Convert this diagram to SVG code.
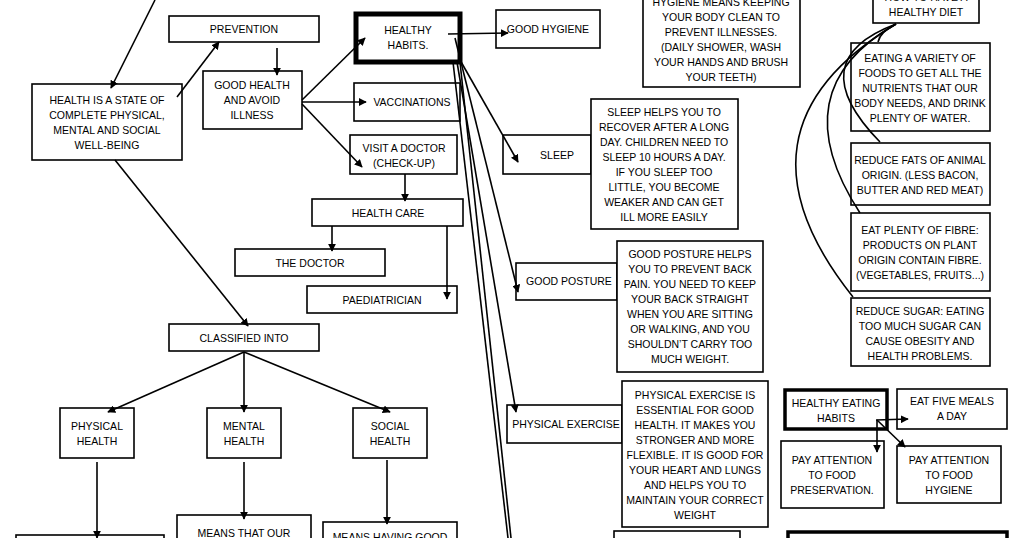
<svg xmlns="http://www.w3.org/2000/svg" width="1024" height="538" viewBox="0 0 1024 538">
<defs>
<marker id="a" viewBox="0 0 10 10" refX="9" refY="5" markerWidth="5" markerHeight="5" orient="auto"><path d="M0,0L10,5L0,10z" fill="#000"/></marker>
<style>
rect{fill:#fff;stroke:#000;stroke-width:1.6}
.thick{stroke-width:5}
.mid{stroke-width:3.5}
text{font-family:"Liberation Sans",Arial,sans-serif;font-size:10.5px;text-anchor:middle;fill:#000}
.c line,.c path{stroke:#000;stroke-width:1.6;fill:none}
.c .ar{marker-end:url(#a)}
</style>
</defs>
<rect x="0" y="0" width="1024" height="538" style="fill:#fff;stroke:none"/>
<g id="prevention"><rect x="169" y="16" width="150" height="26"/><text x="244" y="33">PREVENTION</text></g>
<g id="habits"><rect class="thick" x="356" y="14" width="104" height="48"/><text x="408" y="34">HEALTHY</text><text x="408" y="49">HABITS.</text></g>
<g id="hygiene"><rect x="496" y="10" width="104" height="38"/><text x="548" y="33">GOOD HYGIENE</text></g>
<g id="hygienetext"><rect x="643" y="-5" width="157" height="92"/><text x="721" y="6">HYGIENE MEANS KEEPING</text><text x="721" y="21">YOUR BODY CLEAN TO</text><text x="721" y="36">PREVENT ILLNESSES.</text><text x="721" y="51">(DAILY SHOWER, WASH</text><text x="721" y="66">YOUR HANDS AND BRUSH</text><text x="721" y="81">YOUR TEETH)</text></g>
<g id="diet"><rect x="873" y="-10" width="106" height="33"/><text x="926" y="1">HOW TO HAVE A</text><text x="926" y="16">HEALTHY DIET</text></g>
<g id="state"><rect x="32" y="84" width="150" height="76"/><text x="107" y="104">HEALTH IS A STATE OF</text><text x="107" y="119">COMPLETE PHYSICAL,</text><text x="107" y="134">MENTAL AND SOCIAL</text><text x="107" y="149">WELL-BEING</text></g>
<g id="goodhealth"><rect x="203" y="71" width="99" height="58"/><text x="252" y="89">GOOD HEALTH</text><text x="252" y="104">AND AVOID</text><text x="252" y="119">ILLNESS</text></g>
<g id="vacc"><rect x="354" y="83" width="106" height="38"/><text x="412" y="106">VACCINATIONS</text></g>
<g id="visit"><rect x="350" y="135" width="107" height="39"/><text x="404" y="152">VISIT A DOCTOR</text><text x="404" y="167">(CHECK-UP)</text></g>
<g id="care"><rect x="312" y="199" width="151" height="27"/><text x="388" y="217">HEALTH CARE</text></g>
<g id="doctor"><rect x="235" y="249" width="150" height="27"/><text x="310" y="267">THE DOCTOR</text></g>
<g id="paed"><rect x="307" y="286" width="150" height="27"/><text x="382" y="304">PAEDIATRICIAN</text></g>
<g id="classified"><rect x="169" y="324" width="150" height="27"/><text x="244" y="342">CLASSIFIED INTO</text></g>
<g id="physical"><rect x="60" y="408" width="74" height="50"/><text x="97" y="430">PHYSICAL</text><text x="97" y="445">HEALTH</text></g>
<g id="mental"><rect x="207" y="408" width="74" height="50"/><text x="244" y="430">MENTAL</text><text x="244" y="445">HEALTH</text></g>
<g id="social"><rect x="353" y="408" width="74" height="50"/><text x="390" y="430">SOCIAL</text><text x="390" y="445">HEALTH</text></g>
<g id="physb"><rect x="16" y="535" width="148" height="20"/></g>
<g id="mentb"><rect x="177" y="515" width="134" height="40"/><text x="244" y="537">MEANS THAT OUR</text></g>
<g id="socb"><rect x="323" y="522" width="134" height="40"/><text x="390" y="541">MEANS HAVING GOOD</text></g>
<g id="sleep"><rect x="503" y="135" width="88" height="39"/><text x="557" y="159">SLEEP</text></g>
<g id="sleept"><rect x="591" y="99" width="147" height="130"/><text x="664" y="116">SLEEP HELPS YOU TO</text><text x="664" y="131">RECOVER AFTER A LONG</text><text x="664" y="146">DAY. CHILDREN NEED TO</text><text x="664" y="161">SLEEP 10 HOURS A DAY.</text><text x="664" y="176">IF YOU SLEEP TOO</text><text x="664" y="191">LITTLE, YOU BECOME</text><text x="664" y="206">WEAKER AND CAN GET</text><text x="664" y="221">ILL MORE EASILY</text></g>
<g id="posture"><rect x="516" y="263" width="101" height="37"/><text x="569" y="285">GOOD POSTURE</text></g>
<g id="posturet"><rect x="617" y="241" width="146" height="131"/><text x="690" y="258">GOOD POSTURE HELPS</text><text x="690" y="273">YOU TO PREVENT BACK</text><text x="690" y="288">PAIN. YOU NEED TO KEEP</text><text x="690" y="303">YOUR BACK STRAIGHT</text><text x="690" y="318">WHEN YOU ARE SITTING</text><text x="690" y="333">OR WALKING, AND YOU</text><text x="690" y="348">SHOULDN’T CARRY TOO</text><text x="690" y="363">MUCH WEIGHT.</text></g>
<g id="exercise"><rect x="507" y="405" width="115" height="38"/><text x="566" y="428">PHYSICAL EXERCISE</text></g>
<g id="exerciset"><rect x="622" y="381" width="146" height="146"/><text x="695" y="399">PHYSICAL EXERCISE IS</text><text x="695" y="414">ESSENTIAL FOR GOOD</text><text x="695" y="429">HEALTH. IT MAKES YOU</text><text x="695" y="444">STRONGER AND MORE</text><text x="695" y="459">FLEXIBLE. IT IS GOOD FOR</text><text x="695" y="474">YOUR HEART AND LUNGS</text><text x="695" y="489">AND HELPS YOU TO</text><text x="695" y="504">MAINTAIN YOUR CORRECT</text><text x="695" y="519">WEIGHT</text></g>
<g id="variety"><rect x="851" y="43" width="139" height="88"/><text x="920" y="62">EATING A VARIETY OF</text><text x="920" y="77">FOODS TO GET ALL THE</text><text x="920" y="92">NUTRIENTS THAT OUR</text><text x="920" y="107">BODY NEEDS, AND DRINK</text><text x="920" y="122">PLENTY OF WATER.</text></g>
<g id="fats"><rect x="851" y="143" width="139" height="62"/><text x="920" y="164">REDUCE FATS OF ANIMAL</text><text x="920" y="179">ORIGIN. (LESS BACON,</text><text x="920" y="194">BUTTER AND RED MEAT)</text></g>
<g id="fibre"><rect x="851" y="213" width="139" height="78"/><text x="920" y="234">EAT PLENTY OF FIBRE:</text><text x="920" y="249">PRODUCTS ON PLANT</text><text x="920" y="264">ORIGIN CONTAIN FIBRE.</text><text x="920" y="279">(VEGETABLES, FRUITS...)</text></g>
<g id="sugar"><rect x="851" y="298" width="139" height="68"/><text x="920" y="315">REDUCE SUGAR: EATING</text><text x="920" y="330">TOO MUCH SUGAR CAN</text><text x="920" y="345">CAUSE OBESITY AND</text><text x="920" y="360">HEALTH PROBLEMS.</text></g>
<g id="eating"><rect class="mid" x="785" y="390" width="102" height="39"/><text x="836" y="407">HEALTHY EATING</text><text x="836" y="422">HABITS</text></g>
<g id="meals"><rect x="897" y="389" width="110" height="40"/><text x="952" y="405">EAT FIVE MEALS</text><text x="952" y="420">A DAY</text></g>
<g id="pres"><rect x="781" y="441" width="103" height="67"/><text x="832" y="464">PAY ATTENTION</text><text x="832" y="479">TO FOOD</text><text x="832" y="494">PRESERVATION.</text></g>
<g id="foodhyg"><rect x="897" y="446" width="104" height="57"/><text x="949" y="464">PAY ATTENTION</text><text x="949" y="479">TO FOOD</text><text x="949" y="494">HYGIENE</text></g>
<g id="bot1"><rect x="614" y="531" width="126" height="30"/></g>
<g id="bot2"><rect class="mid" x="788" y="532" width="219" height="30"/></g>
<g class="c">
<line class="ar" x1="155" y1="0" x2="111" y2="88"/>
<line class="ar" x1="177" y1="97" x2="219" y2="42"/>
<line class="ar" x1="277" y1="48" x2="277" y2="75"/>
<line class="ar" x1="302" y1="100" x2="365" y2="38"/>
<line class="ar" x1="302" y1="102" x2="366" y2="102"/>
<line class="ar" x1="302" y1="104" x2="362" y2="167"/>
<line class="ar" x1="405" y1="174" x2="405" y2="201"/>
<line class="ar" x1="332" y1="226" x2="332" y2="251"/>
<line class="ar" x1="447" y1="226" x2="447" y2="299"/>
<line class="ar" x1="115" y1="160" x2="248" y2="326"/>
<line class="ar" x1="244" y1="352" x2="108" y2="412"/>
<line class="ar" x1="244" y1="352" x2="244" y2="412"/>
<line class="ar" x1="244" y1="352" x2="390" y2="412"/>
<line class="ar" x1="97" y1="462" x2="97" y2="538"/>
<line class="ar" x1="244" y1="462" x2="244" y2="519"/>
<line class="ar" x1="387" y1="460" x2="387" y2="524"/>
<line class="ar" x1="448" y1="34" x2="508" y2="33"/>
<line class="ar" x1="460" y1="60" x2="518" y2="162"/>
<line class="ar" x1="455" y1="38" x2="518" y2="292"/>
<line class="ar" x1="457" y1="62" x2="516" y2="412"/>
<line x1="460" y1="62" x2="511" y2="538"/>
<line x1="453" y1="62" x2="508" y2="538"/>
<path d="M896,24 Q880,32 878,42"/>
<path d="M896,24 Q800,60 880,142"/>
<path d="M896,24 Q780,90 860,213"/>
<path d="M896,24 Q720,130 853,297"/>
<line class="ar" x1="876" y1="420" x2="908" y2="419"/>
<line class="ar" x1="877" y1="420" x2="877" y2="452"/>
<line class="ar" x1="877" y1="420" x2="905" y2="447"/>
</g>
</svg>
